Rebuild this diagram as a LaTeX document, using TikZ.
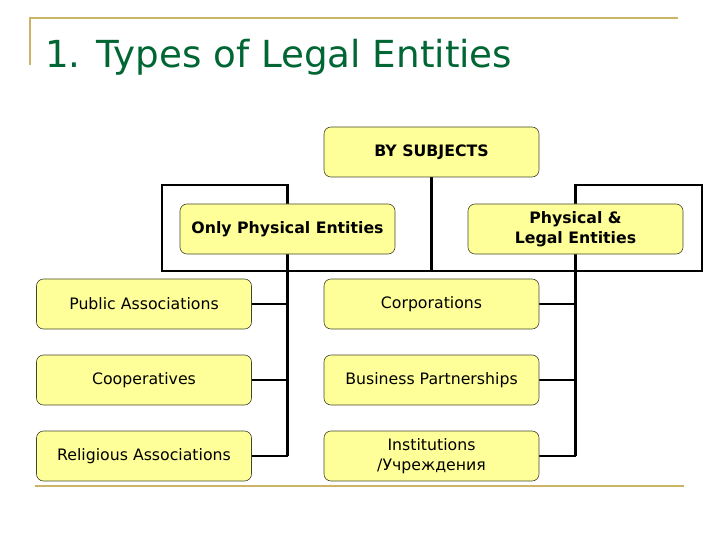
\documentclass[tikz,border=0pt]{standalone}
\usepackage{fontspec}
\setmainfont{DejaVu Sans}
\usepackage{xcolor}
\definecolor{boxfill}{RGB}{255,255,153}
\definecolor{boxline}{RGB}{70,70,45}
\definecolor{goldline}{RGB}{204,180,102}
\definecolor{titlegreen}{RGB}{0,102,51}
\usetikzlibrary{backgrounds}

\begin{document}
\begin{tikzpicture}[x=1bp,y=-1bp,
    box/.style={draw=boxline, fill=boxfill, rounded corners=7bp,
        line width=0.6pt, minimum width=215bp, minimum height=50bp,
        align=center, font=\fontsize{15.8}{20}\selectfont},
    head/.style={box, font=\fontsize{15.8}{20}\selectfont\bfseries},
    link/.style={line width=2.2pt}]
    \useasboundingbox (0,0) rectangle (720,540);

    % title and gold frame
    \draw[goldline, line width=2bp] (678,18) -- (30,18) -- (30,65);
    \draw[goldline, line width=2bp] (35,486) -- (684,486);
    \node[anchor=base west, inner sep=0pt, text=titlegreen,
        font=\fontsize{37.4}{40}\selectfont] (title) at (45,68) {1. Types of Legal Entities};

    % top levels
    \node[head] (subj) at (431.5,152) {BY SUBJECTS};
    \node[head] (phys) at (287.5,229) {Only Physical Entities};
    \node[head] (both) at (575.5,229) {Physical \&\\Legal Entities};

    % left column
    \node[box] (pub) at (144,304) {Public Associations};
    \node[box] (coop) at (144,380) {Cooperatives};
    \node[box] (rel) at (144,456) {Religious Associations};

    % middle column
    \node[box] (corp) at (431.5,304) {Corporations};
    \node[box] (busi) at (431.5,380) {Business Partnerships};
    \node[box] (inst) at (431.5,456) {Institutions\\/Учреждения};

    \begin{pgfonlayer}{background}
    \draw[link] (subj.south) -- ++(0,94) coordinate (fork);
    \draw[link] (fork) -| (162,185) -| (phys.center |- rel.east);
    \draw[link] (fork) -| (702,185) -| (both.center |- inst.east);
    \foreach \n in {pub,coop,rel}
        \draw[link] (\n.east) -- (\n.east -| phys.center);
    \foreach \n in {corp,busi,inst}
        \draw[link] (\n.east) -- (\n.east -| both.center);
    \end{pgfonlayer}
\end{tikzpicture}
\end{document}
